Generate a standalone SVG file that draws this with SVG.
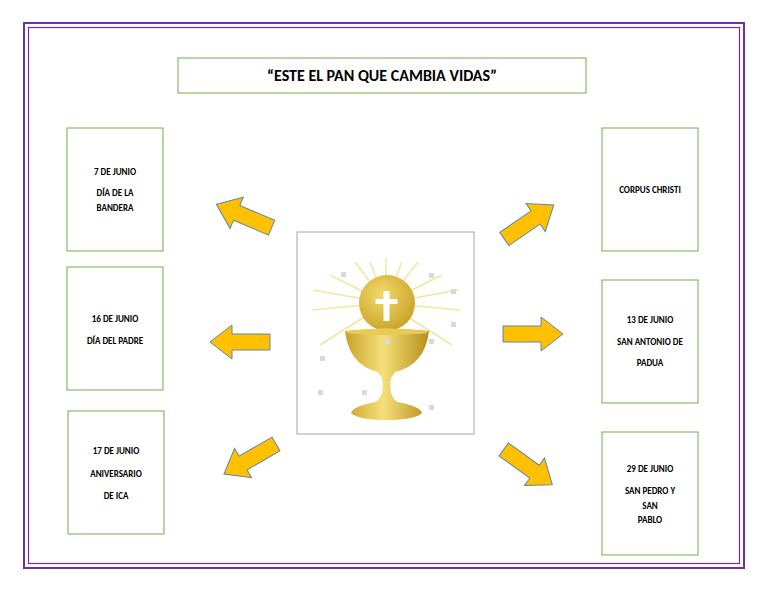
<svg xmlns="http://www.w3.org/2000/svg" width="768" height="594" viewBox="0 0 768 594">
<defs>
<style>
.box{fill:#fff;stroke:#70AD47;stroke-width:1}
.t{font-family:"Carlito","Liberation Sans",sans-serif;font-weight:bold;font-size:9px;fill:#000;text-anchor:middle}
.arr{fill:#FFC000;stroke:#5E86A8;stroke-width:1}
.ray{stroke:#F3E6A0;stroke-width:1.5}
</style>
<path id="a" d="M-30,0 L-8,-17 L-8,-8 L30,-8 L30,8 L-8,8 L-8,17 Z"/>
<linearGradient id="g" x1="0" x2="1" y1="0" y2="0">
<stop offset="0" stop-color="#C9A227"/><stop offset="0.45" stop-color="#F5E07A"/><stop offset="1" stop-color="#B88E1A"/>
</linearGradient>
<radialGradient id="h" cx="0.4" cy="0.35" r="0.7">
<stop offset="0" stop-color="#F3D96A"/><stop offset="1" stop-color="#C9A227"/>
</radialGradient>
</defs>
<rect width="768" height="594" fill="#fff"/>
<rect x="24" y="23" width="720" height="545" fill="none" stroke="#7030A0" stroke-width="2"/>
<rect x="28.5" y="27.5" width="711" height="536" fill="none" stroke="#7030A0" stroke-width="1.2"/>
<g id="title"><rect class="box" x="178" y="58" width="408" height="35"/>
<text x="382" y="81" class="t" style="font-size:16px">“ESTE EL PAN QUE CAMBIA VIDAS”</text></g>
<g id="n1"><rect class="box" x="67" y="128" width="96" height="123"/>
<text class="t" x="115" y="175">7 DE JUNIO</text><text class="t" x="115" y="196">DÍA DE LA</text><text class="t" x="115" y="211">BANDERA</text></g>
<g id="n2"><rect class="box" x="67" y="267" width="96" height="123"/>
<text class="t" x="115" y="322">16 DE JUNIO</text><text class="t" x="115" y="344">DÍA DEL PADRE</text></g>
<g id="n3"><rect class="box" x="68" y="411" width="96" height="123"/>
<text class="t" x="116" y="454">17 DE JUNIO</text><text class="t" x="116" y="477">ANIVERSARIO</text><text class="t" x="116" y="499">DE ICA</text></g>
<g id="n4"><rect class="box" x="602" y="128" width="96" height="123"/>
<text class="t" x="650" y="193">CORPUS CHRISTI</text></g>
<g id="n5"><rect class="box" x="602" y="280" width="96" height="123"/>
<text class="t" x="650" y="323">13  DE JUNIO</text><text class="t" x="650" y="345">SAN ANTONIO DE</text><text class="t" x="650" y="366">PADUA</text></g>
<g id="n6"><rect class="box" x="602" y="432" width="96" height="123"/>
<text class="t" x="650" y="472">29  DE JUNIO</text><text class="t" x="650" y="494">SAN PEDRO Y</text><text class="t" x="650" y="509">SAN</text><text class="t" x="650" y="523">PABLO</text></g>
<g id="center">
<rect x="297" y="232" width="177" height="202" fill="#fff" stroke="#A6A6A6" stroke-width="1"/>
<g class="ray">
<line x1="386" y1="303" x2="386" y2="258"/><line x1="386" y1="303" x2="355" y2="262"/><line x1="386" y1="303" x2="418" y2="262"/>
<line x1="386" y1="303" x2="330" y2="275"/><line x1="386" y1="303" x2="442" y2="275"/><line x1="386" y1="303" x2="313" y2="290"/>
<line x1="386" y1="303" x2="458" y2="290"/><line x1="386" y1="303" x2="312" y2="310"/><line x1="386" y1="303" x2="460" y2="310"/>
<line x1="386" y1="303" x2="320" y2="345"/><line x1="386" y1="303" x2="452" y2="345"/><line x1="386" y1="303" x2="370" y2="262"/><line x1="386" y1="303" x2="402" y2="262"/>
</g>
<circle cx="387" cy="303" r="28" fill="url(#h)"/>
<path d="M383.5,291 h6 v8 h8 v5 h-8 v17 h-6 v-17 h-8 v-5 h8 z" fill="#fff"/>
<path d="M345,331 Q387,326 429,331 Q425,365 395,372 L391,378 Q388,395 397,402 Q420,406 422,413 Q415,420 387,420 Q358,420 351,413 Q353,406 376,402 Q385,395 382,378 L378,372 Q349,365 345,331 Z" fill="url(#g)"/>
<ellipse cx="387" cy="332" rx="41" ry="3" fill="#E8CB55"/>
<g fill="#D9D9D9"><rect x="341" y="272" width="5" height="5"/><rect x="429" y="273" width="5" height="5"/><rect x="451" y="289" width="5" height="5"/><rect x="320" y="356" width="5" height="5"/><rect x="451" y="322" width="5" height="5"/><rect x="385" y="339" width="5" height="5"/><rect x="429" y="339" width="5" height="5"/><rect x="318" y="390" width="5" height="5"/><rect x="362" y="390" width="5" height="5"/><rect x="429" y="405" width="5" height="5"/></g>
</g>
<g id="connectors" class="arr">
<use href="#a" transform="translate(244,216) rotate(23)"/>
<use href="#a" transform="translate(240,342)"/>
<use href="#a" transform="translate(250,459) rotate(-30)"/>
<use href="#a" transform="translate(529,222) rotate(145.6)"/>
<use href="#a" transform="translate(533,334) rotate(180)"/>
<use href="#a" transform="translate(528,467) rotate(-144)"/>
</g>
</svg>
